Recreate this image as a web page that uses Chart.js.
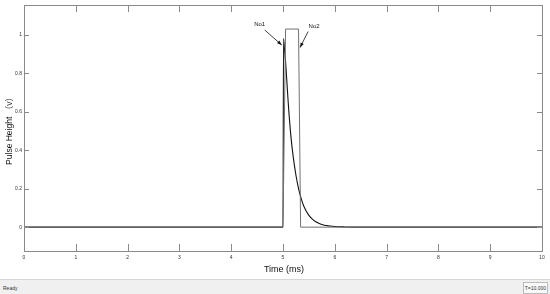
<!DOCTYPE html>
<html>
<head>
<meta charset="utf-8">
<script src="https://cdn.jsdelivr.net/npm/chart.js@4.4.1/dist/chart.umd.min.js"></script>
<style>
  html, body { margin: 0; padding: 0; background: #fff; }
  #wrap { position: relative; width: 550px; height: 279px; }
  #status { position: relative; width: 550px; height: 15px; background: #f0f0f0; border-top: 1px solid #d6d6d6; box-sizing: border-box; font-family: "Liberation Sans", Arial, sans-serif; font-size: 5px; color: #333; }
  #status .left { position: absolute; left: 3px; top: 5px; }
  #status .right { position: absolute; right: 2px; top: 2px; height: 10px; line-height: 10px; padding: 0 1px; border: 1px solid #bbb; background: #fafafa; }
</style>
</head>
<body>
<div id="wrap"><canvas id="pulseChart" width="550" height="279"></canvas></div>
<div id="status"><span class="left">Ready</span><span class="right">T=10.000</span></div>
<script>
// values
const timeNo1 = [0, 5.0, 5.01, 5.03, 5.05, 5.1, 5.15, 5.2, 5.25, 5.3, 5.35, 5.4, 5.5, 5.6, 5.7, 5.8, 5.9, 6.0, 6.2, 6.5, 10];
const heightNo1 = [0, 0, 0.98, 0.92, 0.86, 0.65, 0.48, 0.36, 0.27, 0.20, 0.15, 0.11, 0.061, 0.034, 0.019, 0.010, 0.006, 0.003, 0.001, 0, 0];

const timeNo2 = [0, 5.0, 5.05, 5.30, 5.34, 10];
const heightNo2 = [0, 0, 1.03, 1.03, 0, 0];

const xTicks = [0, 1, 2, 3, 4, 5, 6, 7, 8, 9, 10];
const yTicks = [0, 0.2, 0.4, 0.6, 0.8, 1];

const labels = ['No1', 'No2'];
const arrowTips = [[4.975, 0.947], [5.33, 0.934]];

const toPoints = (xs, ys) => xs.map((x, i) => ({ x: x, y: ys[i] }));

const frame = {
    id: 'frame',
    afterDatasetsDraw(chart) {
        const { ctx, chartArea: a, scales: { x, y } } = chart;
        ctx.save();
        // box
        ctx.strokeStyle = '#8a8a8a';
        ctx.lineWidth = 1;
        ctx.strokeRect(a.left + 0.5, a.top + 0.5, a.right - a.left, a.bottom - a.top);
        // inner tick marks
        ctx.beginPath();
        xTicks.slice(1, -1).forEach(v => {
            const px = Math.round(x.getPixelForValue(v)) + 0.5;
            ctx.moveTo(px, a.bottom); ctx.lineTo(px, a.bottom - 7);
            ctx.moveTo(px, a.top); ctx.lineTo(px, a.top + 7);
        });
        yTicks.forEach(v => {
            const py = Math.round(y.getPixelForValue(v)) + 0.5;
            ctx.moveTo(a.left, py); ctx.lineTo(a.left + 5, py);
            ctx.moveTo(a.right, py); ctx.lineTo(a.right - 5, py);
        });
        ctx.stroke();

        // axis titles
        ctx.fillStyle = '#111';
        ctx.font = '9px "Liberation Sans", Arial, sans-serif';
        ctx.textAlign = 'center';
        ctx.textBaseline = 'middle';
        ctx.fillText('Time (ms)', (a.left + a.right) / 2 + 1, 270);
        ctx.save();
        ctx.translate(10, 129);
        ctx.rotate(-Math.PI / 2);
        ctx.font = '8.5px "Liberation Sans", Arial, "Noto Sans CJK SC", sans-serif';
        ctx.fillText('Pulse Height （v）', 0, 0);
        ctx.restore();

        // annotations with arrows
        const offsets = [[-17, -15], [8, -16]];
        const textOffsets = [[-22, -21], [14, -21]];
        ctx.font = '6px "Liberation Sans", Arial, sans-serif';
        ctx.strokeStyle = '#111';
        ctx.lineWidth = 0.8;
        labels.forEach((lab, i) => {
            const tx = x.getPixelForValue(arrowTips[i][0]);
            const ty = y.getPixelForValue(arrowTips[i][1]);
            const sx = tx + offsets[i][0];
            const sy = ty + offsets[i][1];
            ctx.beginPath();
            ctx.moveTo(sx, sy); ctx.lineTo(tx, ty);
            ctx.stroke();
            const ang = Math.atan2(ty - sy, tx - sx);
            ctx.beginPath();
            ctx.moveTo(tx, ty);
            ctx.lineTo(tx - 5 * Math.cos(ang - 0.35), ty - 5 * Math.sin(ang - 0.35));
            ctx.lineTo(tx - 5 * Math.cos(ang + 0.35), ty - 5 * Math.sin(ang + 0.35));
            ctx.closePath();
            ctx.fill();
            ctx.fillText(lab, tx + textOffsets[i][0], ty + textOffsets[i][1]);
        });
        ctx.restore();
    }
};

new Chart(document.getElementById('pulseChart'), {
    type: 'scatter',
    data: {
        datasets: [
            { label: 'No2', data: toPoints(timeNo2, heightNo2), showLine: true, borderColor: '#707070', borderWidth: 1, pointRadius: 0, tension: 0 },
            { label: 'No1', data: toPoints(timeNo1, heightNo1), showLine: true, borderColor: '#111111', borderWidth: 1.1, pointRadius: 0, cubicInterpolationMode: 'monotone' }
        ]
    },
    options: {
        responsive: false,
        animation: false,
        layout: { padding: { left: 0, top: 4, right: 8, bottom: 0 } },
        plugins: { legend: { display: false }, tooltip: { enabled: false } },
        scales: {
            x: {
                type: 'linear', min: 0, max: 10,
                afterBuildTicks: s => { s.ticks = xTicks.map(v => ({ value: v })); },
                afterFit: s => { s.height = 28; },
                grid: { display: false, drawTicks: false },
                border: { display: false },
                ticks: { padding: 4, color: '#333', font: { size: 5, family: 'Liberation Sans' }, maxRotation: 0, callback: v => String(v) }
            },
            y: {
                type: 'linear', min: -0.124, max: 1.155,
                afterBuildTicks: s => { s.ticks = yTicks.map(v => ({ value: v })); },
                afterFit: s => { s.width = 24; },
                grid: { display: false, drawTicks: false },
                border: { display: false },
                ticks: { padding: 2, color: '#333', font: { size: 5, family: 'Liberation Sans' }, callback: v => String(v) }
            }
        }
    },
    plugins: [frame]
});
</script>
</body>
</html>
